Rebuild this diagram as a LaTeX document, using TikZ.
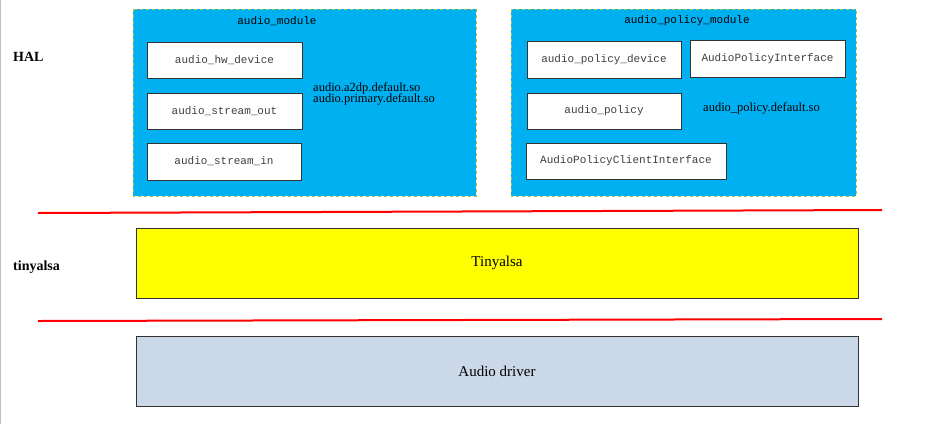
\documentclass[tikz,border=0pt]{standalone}
\usepackage{fontspec}
\setmainfont{Liberation Serif}
\setmonofont{Liberation Mono}
\begin{document}
\begin{tikzpicture}[x=1pt,y=-1pt,
  module/.style={fill=cyan!70!blue!60!white, fill={rgb,255:red,0;green,176;blue,240}, draw={rgb,255:red,160;green,200;blue,80}, dashed},
  ibox/.style={draw=black!80, fill=white, font=\ttfamily\fontsize{11}{13}\selectfont, text=black!75},
  lbl/.style={font=\fontsize{12.5}{14}\selectfont, anchor=west, inner sep=0},
  redl/.style={draw=red, line width=2pt}]
\useasboundingbox (0,0) rectangle (947,424);
\draw[gray!50] (0.5,0) -- (0.5,424);
\node[lbl, font=\bfseries\fontsize{14}{16}\selectfont] (hal) at (13,57) {HAL};
\node[lbl, font=\bfseries\fontsize{14}{16}\selectfont] (tiny) at (13,267) {tinyalsa};
\path[module] (133,9) rectangle (476,196);
\path[module] (511,9) rectangle (856,196);
\node[font=\ttfamily\fontsize{11}{13}\selectfont] (am) at (277,21) {audio\_module};
\node[font=\ttfamily\fontsize{11}{13}\selectfont] (apm) at (687,21) {audio\_policy\_module};
\path[ibox] (147,42) rectangle (302,78) node[midway] (hw) {audio\_hw\_device};
\path[ibox] (147,93) rectangle (302,129) node[midway] (so) {audio\_stream\_out};
\path[ibox] (147,143) rectangle (301,180) node[midway] (si) {audio\_stream\_in};
\node[lbl, anchor=north west] (lib1) at (313,81) {\begin{tabular}{@{}l@{}}audio.a2dp.default.so\\[-3pt]audio.primary.default.so\end{tabular}};
\path[ibox] (527,41) rectangle (681,78) node[midway] (apd) {audio\_policy\_device};
\path[ibox] (690,40) rectangle (845,77) node[midway] (api) {AudioPolicyInterface};
\path[ibox] (527,93) rectangle (681,129) node[midway] (ap) {audio\_policy};
\path[ibox] (526,143) rectangle (726,179) node[midway] (apc) {AudioPolicyClientInterface};
\node[lbl] (lib2) at (703,108) {audio\_policy.default.so};
\coordinate (r1a) at (38,213); \coordinate (r1b) at (882,210);
\coordinate (r2a) at (38,321); \coordinate (r2b) at (882,319);
\draw[redl] (r1a) -- (r1b);
\draw[redl] (r2a) -- (r2b);
\path[draw=black!80, fill={rgb,255:red,255;green,255;blue,0}] (136,228) rectangle (858,298) node[midway, font=\fontsize{15}{17}\selectfont] (ta) {Tinyalsa};
\path[draw=black!80, fill={rgb,255:red,202;green,216;blue,232}] (136,336) rectangle (858,406) node[midway, font=\fontsize{15}{17}\selectfont] (ad) {Audio driver};
\end{tikzpicture}
\end{document}
